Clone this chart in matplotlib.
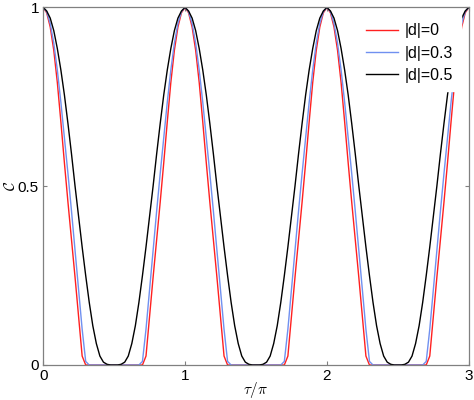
'''Concurrence C vs tau/pi for three values of |d|.'''
import numpy as np
import matplotlib
matplotlib.use('Agg')
import matplotlib.pyplot as plt

plt.rcParams['font.family'] = ['Liberation Sans', 'DejaVu Sans']
plt.rcParams['mathtext.fontset'] = 'cm'

# tau/pi sampled every 0.025 from 0 to 3
tau = np.linspace(0.0, 3.0, 121)

# |d| = 0
c_d0 = [
    1.0, 0.985, 0.945, 0.88, 0.79, 0.68, 0.565, 0.455, 0.35, 0.245, 0.135, 0.025, 0, 0, 0, 0, 0, 0, 0, 0, 0,
    0, 0, 0, 0, 0, 0, 0, 0, 0.025, 0.135, 0.245, 0.35, 0.455, 0.565, 0.68, 0.79, 0.88, 0.945, 0.985,
    1.0, 0.985, 0.945, 0.88, 0.79, 0.68, 0.565, 0.455, 0.35, 0.245, 0.135, 0.025, 0, 0, 0, 0, 0, 0, 0, 0, 0,
    0, 0, 0, 0, 0, 0, 0, 0, 0.025, 0.135, 0.245, 0.35, 0.455, 0.565, 0.68, 0.79, 0.88, 0.945, 0.985,
    1.0, 0.985, 0.945, 0.88, 0.79, 0.68, 0.565, 0.455, 0.35, 0.245, 0.135, 0.025, 0, 0, 0, 0, 0, 0, 0, 0, 0,
    0, 0, 0, 0, 0, 0, 0, 0, 0.025, 0.135, 0.245, 0.35, 0.455, 0.565, 0.68, 0.79, 0.88, 0.945, 0.985,
    1.0,
]

# |d| = 0.3
c_d03 = [
    1.0, 0.988, 0.955, 0.9, 0.825, 0.735, 0.635, 0.535, 0.43, 0.32, 0.21, 0.1, 0.01, 0, 0, 0, 0, 0, 0, 0, 0,
    0, 0, 0, 0, 0, 0, 0, 0.01, 0.1, 0.21, 0.32, 0.43, 0.535, 0.635, 0.735, 0.825, 0.9, 0.955, 0.988,
    1.0, 0.988, 0.955, 0.9, 0.825, 0.735, 0.635, 0.535, 0.43, 0.32, 0.21, 0.1, 0.01, 0, 0, 0, 0, 0, 0, 0, 0,
    0, 0, 0, 0, 0, 0, 0, 0.01, 0.1, 0.21, 0.32, 0.43, 0.535, 0.635, 0.735, 0.825, 0.9, 0.955, 0.988,
    1.0, 0.988, 0.955, 0.9, 0.825, 0.735, 0.635, 0.535, 0.43, 0.32, 0.21, 0.1, 0.01, 0, 0, 0, 0, 0, 0, 0, 0,
    0, 0, 0, 0, 0, 0, 0, 0.01, 0.1, 0.21, 0.32, 0.43, 0.535, 0.635, 0.735, 0.825, 0.9, 0.955, 0.988,
    1.0,
]

# |d| = 0.5
c_d05 = [
    1.0, 0.99, 0.97, 0.935, 0.885, 0.825, 0.755, 0.675, 0.59, 0.5, 0.415, 0.33, 0.25, 0.175, 0.11, 0.06, 0.025, 0.008, 0.002, 0, 0,
    0, 0.002, 0.008, 0.025, 0.06, 0.11, 0.175, 0.25, 0.33, 0.415, 0.5, 0.59, 0.675, 0.755, 0.825, 0.885, 0.935, 0.97, 0.99,
    1.0, 0.99, 0.97, 0.935, 0.885, 0.825, 0.755, 0.675, 0.59, 0.5, 0.415, 0.33, 0.25, 0.175, 0.11, 0.06, 0.025, 0.008, 0.002, 0, 0,
    0, 0.002, 0.008, 0.025, 0.06, 0.11, 0.175, 0.25, 0.33, 0.415, 0.5, 0.59, 0.675, 0.755, 0.825, 0.885, 0.935, 0.97, 0.99,
    1.0, 0.99, 0.97, 0.935, 0.885, 0.825, 0.755, 0.675, 0.59, 0.5, 0.415, 0.33, 0.25, 0.175, 0.11, 0.06, 0.025, 0.008, 0.002, 0, 0,
    0, 0.002, 0.008, 0.025, 0.06, 0.11, 0.175, 0.25, 0.33, 0.415, 0.5, 0.59, 0.675, 0.755, 0.825, 0.885, 0.935, 0.97, 0.99,
    1.0,
]

labels = ['|d|=0', '|d|=0.3', '|d|=0.5']
colors = ['#ff2020', '#7090f0', '#000000']
xticks = [0, 1, 2, 3]
yticks = [0, 0.5, 1]
yticklabels = ['0', '0.5', '1']

fig = plt.figure(figsize=(4.74, 4.0), dpi=100)
ax = fig.add_axes([0.091, 0.0875, 0.898, 0.894])

for c, lab, col in zip([c_d0, c_d03, c_d05], labels, colors):
    ax.plot(tau, c, color=col, lw=1.0, label=lab)

ax.set_xlim(0, 3)
ax.set_ylim(0, 1)
ax.set_xticks(xticks)
ax.set_xticklabels([str(t) for t in xticks])
ax.set_yticks(yticks)
ax.set_yticklabels(yticklabels)
ax.tick_params(direction='in', length=3, width=0.8, color='#808080',
               labelsize=11, top=True, right=True, pad=3)
for s in ax.spines.values():
    s.set_color('#808080')
    s.set_linewidth(0.9)

ax.set_xlabel(r'$\tau/\pi$', fontsize=11, labelpad=-2)
ax.set_ylabel(r'$\mathcal{C}$', fontsize=11, labelpad=0)

leg = ax.legend(loc='upper right', fontsize=11.5, frameon=True, fancybox=False,
                handlelength=2.0, handletextpad=0.4, labelspacing=0.45,
                borderaxespad=0.5, borderpad=0.5)
leg.get_frame().set_edgecolor('white')
leg.get_frame().set_alpha(1.0)

fig.savefig('out.png', dpi=100)
